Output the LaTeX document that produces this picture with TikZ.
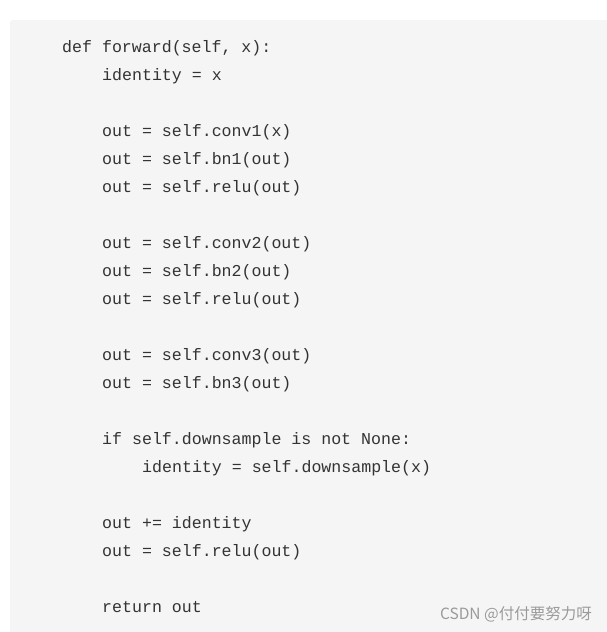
\documentclass[tikz,border=0pt]{standalone}
\usepackage{fontspec}
\setmonofont{Liberation Mono}
\newfontfamily\cjk{Noto Sans CJK SC}
\definecolor{bgbox}{HTML}{F5F5F5}
\definecolor{codecol}{HTML}{333333}
\definecolor{wm}{HTML}{9A9A9A}
\begin{document}
\begin{tikzpicture}[x=1pt,y=-1pt,
  code/.style={anchor=base west,inner sep=0pt,text=codecol,font=\fontsize{16.6}{20}\ttfamily}]
\useasboundingbox (0,0) rectangle (607,632);
\fill[white] (0,0) rectangle (607,632);
\fill[bgbox,rounded corners=3pt] (10,20) rectangle (620,645);
\node[code] (l0) at (62,52) {def forward(self, x):};
\node[code] (l1) at (102,80) {identity = x};
\node[code] (l3) at (102,136) {out = self.conv1(x)};
\node[code] (l4) at (102,164) {out = self.bn1(out)};
\node[code] (l5) at (102,192) {out = self.relu(out)};
\node[code] (l7) at (102,248) {out = self.conv2(out)};
\node[code] (l8) at (102,276) {out = self.bn2(out)};
\node[code] (l9) at (102,304) {out = self.relu(out)};
\node[code] (l11) at (102,360) {out = self.conv3(out)};
\node[code] (l12) at (102,388) {out = self.bn3(out)};
\node[code] (l14) at (102,444) {if self.downsample is not None:};
\node[code] (l15) at (142,472) {identity = self.downsample(x)};
\node[code] (l17) at (102,528) {out += identity};
\node[code] (l18) at (102,556) {out = self.relu(out)};
\node[code] (l20) at (102,612) {return out};
\node[anchor=base east,inner sep=0pt,text=wm,font=\cjk\fontsize{15.5}{18}\selectfont] (wmk) at (592,619) {CSDN @付付要努力呀};
\end{tikzpicture}
\end{document}
